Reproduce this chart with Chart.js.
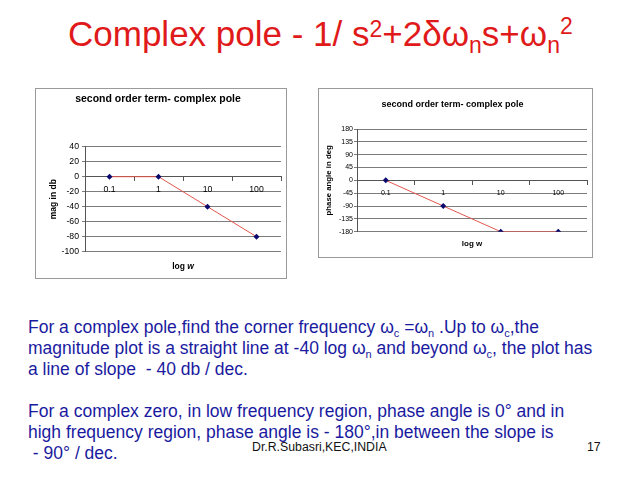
<!DOCTYPE html>
<html>
<head>
<meta charset="utf-8">
<script src="https://cdn.jsdelivr.net/npm/chart.js@4.4.1/dist/chart.umd.min.js"></script>
<style>
  html, body { margin: 0; padding: 0; background: #fff; }
  body { width: 638px; height: 478px; position: relative; overflow: hidden; font-family: "Liberation Sans", Arial, sans-serif; }
  .abs { position: absolute; white-space: pre; }
  #title { left: 68px; top: 16px; font-size: 35px; line-height: 35px; color: #e01a1a; }
  #title .sup { font-size: 23px; position: relative; top: -9px; }
  #title .sub { font-size: 23px; position: relative; top: 7px; }
  #title .sup2 { font-size: 23px; position: relative; top: -12px; }
  .body { left: 28px; font-size: 17.5px; line-height: 17.5px; color: #1a1aa0; }
  .body .s { font-size: 11px; position: relative; top: 4px; }
  .foot { font-size: 12.3px; line-height: 12.3px; color: #111; }
  .frame { position: absolute; box-sizing: border-box; border: 1px solid #9a9a9a; pointer-events: none; }
  canvas { position: absolute; }
</style>
</head>
<body>
<div id="title" class="abs">Complex pole - 1/ s<span class="sup">2</span>+2δω<span class="sub">n</span>s+ω<span class="sub">n</span><span class="sup2">2</span></div>

<canvas id="magChart" width="251" height="190" style="left:35px;top:88px;width:251px;height:190px"></canvas>
<div class="frame" style="left:35px;top:88px;width:252px;height:191px"></div>
<canvas id="phaseChart" width="274" height="169" style="left:318px;top:88px;width:274px;height:169px"></canvas>
<div class="frame" style="left:318px;top:88px;width:275px;height:170px"></div>

<div class="abs body" style="top:319px">For a complex pole,find the corner frequency ω<span class="s">c</span> =ω<span class="s">n</span> .Up to ω<span class="s">c</span>,the</div>
<div class="abs body" style="top:340px">magnitude plot is a straight line at -40 log ω<span class="s">n</span> and beyond ω<span class="s">c</span>, the plot has</div>
<div class="abs body" style="top:361px">a line of slope  - 40 db / dec.</div>
<div class="abs body" style="top:403px">For a complex zero, in low frequency region, phase angle is 0° and in</div>
<div class="abs body" style="top:424px">high frequency region, phase angle is - 180°,in between the slope is</div>
<div class="abs body" style="top:445px"> - 90° / dec.</div>
<div class="abs foot" style="left:252px;top:441px">Dr.R.Subasri,KEC,INDIA</div>
<div class="abs foot" style="left:587px;top:441px">17</div>

<script>
// ---- data ----
const categories = ['0.1', '1', '10', '100'];
const magnitudeDb = [0, 0, -40, -80];
const phaseDeg = [0, -90, -180, -180];
const magTicks = [40, 20, 0, -20, -40, -60, -80, -100];
const phaseTicks = [180, 135, 90, 45, 0, -45, -90, -135, -180];

const FONT = "'Liberation Sans', Arial, sans-serif";

// draws the x-axis caption under the plot area (mixed bold / bold-italic parts)
const captionPlugin = {
  id: 'caption',
  afterDraw(chart, args, opts) {
    if (!opts || !opts.parts) return;
    const ctx = chart.ctx, a = chart.chartArea;
    ctx.save();
    ctx.fillStyle = '#000';
    ctx.textBaseline = 'middle';
    let total = 0;
    opts.parts.forEach(p => { ctx.font = p.font; total += ctx.measureText(p.text).width; });
    let x = (a.left + a.right) / 2 - total / 2;
    const y = a.bottom + opts.offset;
    opts.parts.forEach(p => {
      ctx.font = p.font;
      ctx.textAlign = 'left';
      ctx.fillText(p.text, x, y);
      x += ctx.measureText(p.text).width;
    });
    ctx.restore();
  }
};

function makeChart(id, values, ticks, cfg) {
  return new Chart(document.getElementById(id), {
    type: 'line',
    data: {
      labels: categories,
      datasets: [{
        data: values,
        borderColor: '#e2564e',
        borderWidth: 1,
        pointStyle: 'rectRot',
        pointRadius: 3,
        pointBackgroundColor: '#0a0a6e',
        pointBorderColor: '#0a0a6e',
        pointBorderWidth: 0,
        tension: 0
      }]
    },
    options: {
      responsive: false,
      animation: false,
      events: [],
      layout: { padding: cfg.padding },
      plugins: {
        legend: { display: false },
        tooltip: { enabled: false },
        title: {
          display: true,
          text: cfg.title,
          color: '#000',
          font: { family: FONT, size: cfg.titleSize, weight: 'bold' },
          padding: cfg.titlePadding
        },
        caption: { parts: cfg.caption, offset: cfg.captionOffset }
      },
      scales: {
        x: {
          type: 'category',
          position: { y: 0 },
          offset: true,
          grid: { offset: true, drawOnChartArea: false, drawTicks: true, tickLength: 4, color: '#555' },
          border: { display: true, color: '#555', width: 1 },
          ticks: { color: '#000', font: { family: FONT, size: cfg.tickSize }, padding: cfg.xTickPad, maxRotation: 0, autoSkip: false }
        },
        y: {
          min: Math.min(...ticks),
          max: Math.max(...ticks),
          afterFit(scale) { scale.width = cfg.yWidth; },
          afterBuildTicks(scale) { scale.ticks = ticks.map(v => ({ value: v })); },
          grid: { color: '#7c7c7c', lineWidth: 1, drawTicks: true, tickLength: cfg.yTickLen },
          border: { display: true, color: '#555', width: 1 },
          ticks: { color: '#000', font: { family: FONT, size: cfg.tickSize }, padding: cfg.yTickPad },
          title: {
            display: true,
            text: cfg.yTitle,
            color: '#000',
            font: { family: FONT, size: cfg.yTitleSize, weight: 'bold' },
            padding: { top: cfg.yTitlePad, bottom: 0 }
          }
        }
      }
    },
    plugins: [captionPlugin]
  });
}

makeChart('magChart', magnitudeDb, magTicks, {
  title: 'second order term- complex pole',
  titleSize: 10.5,
  titlePadding: { top: 4.7, bottom: 41.4 },
  padding: { left: 0, right: 5, top: 0, bottom: 26.3 },
  yWidth: 50,
  yTickLen: 3,
  yTickPad: 3,
  xTickPad: 4,
  tickSize: 8.7,
  yTitle: 'mag in db',
  yTitleSize: 8.5,
  yTitlePad: 13.9,
  caption: [
    { text: 'log ', font: 'bold 8.5px ' + FONT },
    { text: 'w', font: 'italic bold 8.5px ' + FONT }
  ],
  captionOffset: 15
});

makeChart('phaseChart', phaseDeg, phaseTicks, {
  title: 'second order term- complex pole',
  titleSize: 9,
  titlePadding: { top: 11.6, bottom: 18.6 },
  padding: { left: 0, right: 5, top: 0, bottom: 25.3 },
  yWidth: 39,
  yTickLen: 3,
  yTickPad: 1,
  xTickPad: 5,
  tickSize: 7,
  yTitle: 'phase angle in deg',
  yTitleSize: 7.8,
  yTitlePad: 6.3,
  caption: [
    { text: 'log w', font: 'bold 8px ' + FONT }
  ],
  captionOffset: 12.3
});
</script>
</body>
</html>
